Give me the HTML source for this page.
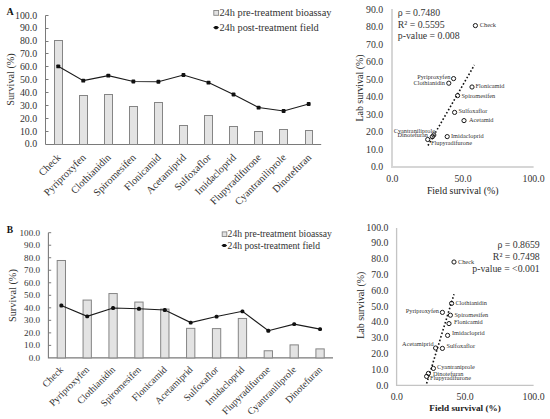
<!DOCTYPE html>
<html><head><meta charset="utf-8"><title>Figure</title>
<style>
html,body{margin:0;padding:0;background:#fff;}
body{width:550px;height:419px;overflow:hidden;}
svg{display:block;font-family:'Liberation Serif', serif;}
</style></head><body>
<svg width="550" height="419" viewBox="0 0 550 419">
<rect width="550" height="419" fill="#fff"/>
<path d="M45.50 15.50 V144.50 H321.20" fill="none" stroke="#7a7a7a" stroke-width="1"/>
<path d="M45.50 131.50 h3 M45.50 118.50 h3 M45.50 105.50 h3 M45.50 92.50 h3 M45.50 79.50 h3 M45.50 66.50 h3 M45.50 53.50 h3 M45.50 41.50 h3 M45.50 28.50 h3 M45.50 15.50 h3 " stroke="#7a7a7a" stroke-width="1"/>
<text x="37.20" y="147.47" font-size="9.9" text-anchor="end" fill="#333" >0.0</text>
<text x="37.20" y="134.58" font-size="9.9" text-anchor="end" fill="#333" >10.0</text>
<text x="37.20" y="121.69" font-size="9.9" text-anchor="end" fill="#333" >20.0</text>
<text x="37.20" y="108.80" font-size="9.9" text-anchor="end" fill="#333" >30.0</text>
<text x="37.20" y="95.91" font-size="9.9" text-anchor="end" fill="#333" >40.0</text>
<text x="37.20" y="83.02" font-size="9.9" text-anchor="end" fill="#333" >50.0</text>
<text x="37.20" y="70.13" font-size="9.9" text-anchor="end" fill="#333" >60.0</text>
<text x="37.20" y="57.24" font-size="9.9" text-anchor="end" fill="#333" >70.0</text>
<text x="37.20" y="44.35" font-size="9.9" text-anchor="end" fill="#333" >80.0</text>
<text x="37.20" y="31.46" font-size="9.9" text-anchor="end" fill="#333" >90.0</text>
<text x="37.20" y="18.57" font-size="9.9" text-anchor="end" fill="#333" >100.0</text>
<rect x="54.50" y="40.50" width="8" height="104.00" fill="#e3e3e3" stroke="#858585" stroke-width="1"/>
<rect x="79.50" y="95.50" width="8" height="49.00" fill="#e3e3e3" stroke="#858585" stroke-width="1"/>
<rect x="104.50" y="94.50" width="8" height="50.00" fill="#e3e3e3" stroke="#858585" stroke-width="1"/>
<rect x="129.50" y="106.50" width="8" height="38.00" fill="#e3e3e3" stroke="#858585" stroke-width="1"/>
<rect x="154.50" y="102.50" width="8" height="42.00" fill="#e3e3e3" stroke="#858585" stroke-width="1"/>
<rect x="179.50" y="125.50" width="8" height="19.00" fill="#e3e3e3" stroke="#858585" stroke-width="1"/>
<rect x="204.50" y="115.50" width="8" height="29.00" fill="#e3e3e3" stroke="#858585" stroke-width="1"/>
<rect x="229.50" y="126.50" width="8" height="18.00" fill="#e3e3e3" stroke="#858585" stroke-width="1"/>
<rect x="254.50" y="131.50" width="8" height="13.00" fill="#e3e3e3" stroke="#858585" stroke-width="1"/>
<rect x="279.50" y="129.50" width="8" height="15.00" fill="#e3e3e3" stroke="#858585" stroke-width="1"/>
<rect x="305.50" y="130.50" width="7" height="14.00" fill="#e3e3e3" stroke="#858585" stroke-width="1"/>
<polyline points="58.22,66.34 83.27,80.65 108.31,75.63 133.36,81.55 158.40,81.81 183.45,74.98 208.50,82.59 233.54,94.44 258.59,107.59 283.63,110.94 308.68,103.98" fill="none" stroke="#1a1a1a" stroke-width="1.1"/>
<rect x="56.27" y="64.39" width="3.9" height="3.9" rx="0.9" fill="#111"/>
<rect x="81.32" y="78.70" width="3.9" height="3.9" rx="0.9" fill="#111"/>
<rect x="106.36" y="73.68" width="3.9" height="3.9" rx="0.9" fill="#111"/>
<rect x="131.41" y="79.60" width="3.9" height="3.9" rx="0.9" fill="#111"/>
<rect x="156.45" y="79.86" width="3.9" height="3.9" rx="0.9" fill="#111"/>
<rect x="181.50" y="73.03" width="3.9" height="3.9" rx="0.9" fill="#111"/>
<rect x="206.55" y="80.64" width="3.9" height="3.9" rx="0.9" fill="#111"/>
<rect x="231.59" y="92.49" width="3.9" height="3.9" rx="0.9" fill="#111"/>
<rect x="256.64" y="105.64" width="3.9" height="3.9" rx="0.9" fill="#111"/>
<rect x="281.68" y="108.99" width="3.9" height="3.9" rx="0.9" fill="#111"/>
<rect x="306.73" y="102.03" width="3.9" height="3.9" rx="0.9" fill="#111"/>
<text x="61.32" y="158.00" font-size="10.3" text-anchor="end" fill="#333" transform="rotate(-45 61.32 158.00)">Check</text>
<text x="86.37" y="158.00" font-size="10.3" text-anchor="end" fill="#333" transform="rotate(-45 86.37 158.00)">Pyriproxyfen</text>
<text x="111.41" y="158.00" font-size="10.3" text-anchor="end" fill="#333" transform="rotate(-45 111.41 158.00)">Clothianidin</text>
<text x="136.46" y="158.00" font-size="10.3" text-anchor="end" fill="#333" transform="rotate(-45 136.46 158.00)">Spiromesifen</text>
<text x="161.50" y="158.00" font-size="10.3" text-anchor="end" fill="#333" transform="rotate(-45 161.50 158.00)">Flonicamid</text>
<text x="186.55" y="158.00" font-size="10.3" text-anchor="end" fill="#333" transform="rotate(-45 186.55 158.00)">Acetamiprid</text>
<text x="211.60" y="158.00" font-size="10.3" text-anchor="end" fill="#333" transform="rotate(-45 211.60 158.00)">Sulfoxaflor</text>
<text x="236.64" y="158.00" font-size="10.3" text-anchor="end" fill="#333" transform="rotate(-45 236.64 158.00)">Imidacloprid</text>
<text x="261.69" y="158.00" font-size="10.3" text-anchor="end" fill="#333" transform="rotate(-45 261.69 158.00)">Flupyradifurone</text>
<text x="286.73" y="158.00" font-size="10.3" text-anchor="end" fill="#333" transform="rotate(-45 286.73 158.00)">Cyantraniliprole</text>
<text x="311.78" y="158.00" font-size="10.3" text-anchor="end" fill="#333" transform="rotate(-45 311.78 158.00)">Dinotefuran</text>
<text x="14.40" y="79.50" font-size="10.2" text-anchor="middle" fill="#333" transform="rotate(-90 14.4 79.5)">Survival (%)</text>
<text x="6.50" y="15.00" font-size="10" text-anchor="start" fill="#111" font-weight="bold" >A</text>
<rect x="213.80" y="10.50" width="4.8" height="4.8" fill="#e2e2e2" stroke="#858585" stroke-width="0.9"/>
<text x="219.40" y="15.60" font-size="10.35" text-anchor="start" fill="#333" >24h pre-treatment bioassay</text>
<path d="M213.20 27.58 L215.10 25.98 L217.10 25.98 L219.00 27.58 L217.10 29.18 L215.10 29.18 Z" fill="#111"/>
<text x="219.40" y="31.00" font-size="10.35" text-anchor="start" fill="#333" >24h post-treatment field</text>
<path d="M48.40 232.70 V357.90 H333.00" fill="none" stroke="#7a7a7a" stroke-width="1.1"/>
<path d="M48.40 345.38 h2.8 M48.40 332.86 h2.8 M48.40 320.34 h2.8 M48.40 307.82 h2.8 M48.40 295.30 h2.8 M48.40 282.78 h2.8 M48.40 270.26 h2.8 M48.40 257.74 h2.8 M48.40 245.22 h2.8 M48.40 232.70 h2.8 " stroke="#7a7a7a" stroke-width="1"/>
<text x="40.00" y="360.90" font-size="9.1" text-anchor="end" fill="#333" >0.0</text>
<text x="40.00" y="348.38" font-size="9.1" text-anchor="end" fill="#333" >10.0</text>
<text x="40.00" y="335.86" font-size="9.1" text-anchor="end" fill="#333" >20.0</text>
<text x="40.00" y="323.34" font-size="9.1" text-anchor="end" fill="#333" >30.0</text>
<text x="40.00" y="310.82" font-size="9.1" text-anchor="end" fill="#333" >40.0</text>
<text x="40.00" y="298.30" font-size="9.1" text-anchor="end" fill="#333" >50.0</text>
<text x="40.00" y="285.78" font-size="9.1" text-anchor="end" fill="#333" >60.0</text>
<text x="40.00" y="273.26" font-size="9.1" text-anchor="end" fill="#333" >70.0</text>
<text x="40.00" y="260.74" font-size="9.1" text-anchor="end" fill="#333" >80.0</text>
<text x="40.00" y="248.22" font-size="9.1" text-anchor="end" fill="#333" >90.0</text>
<text x="40.00" y="235.70" font-size="9.1" text-anchor="end" fill="#333" >100.0</text>
<rect x="57.19" y="260.49" width="8.3" height="97.41" fill="#e3e3e3" stroke="#858585" stroke-width="1"/>
<rect x="83.06" y="300.06" width="8.3" height="57.84" fill="#e3e3e3" stroke="#858585" stroke-width="1"/>
<rect x="108.93" y="293.55" width="8.3" height="64.35" fill="#e3e3e3" stroke="#858585" stroke-width="1"/>
<rect x="134.80" y="302.06" width="8.3" height="55.84" fill="#e3e3e3" stroke="#858585" stroke-width="1"/>
<rect x="160.68" y="309.07" width="8.3" height="48.83" fill="#e3e3e3" stroke="#858585" stroke-width="1"/>
<rect x="186.55" y="328.35" width="8.3" height="29.55" fill="#e3e3e3" stroke="#858585" stroke-width="1"/>
<rect x="212.42" y="328.60" width="8.3" height="29.30" fill="#e3e3e3" stroke="#858585" stroke-width="1"/>
<rect x="238.30" y="318.46" width="8.3" height="39.44" fill="#e3e3e3" stroke="#858585" stroke-width="1"/>
<rect x="264.17" y="350.76" width="8.3" height="7.14" fill="#e3e3e3" stroke="#858585" stroke-width="1"/>
<rect x="290.04" y="344.88" width="8.3" height="13.02" fill="#e3e3e3" stroke="#858585" stroke-width="1"/>
<rect x="315.91" y="348.89" width="8.3" height="9.01" fill="#e3e3e3" stroke="#858585" stroke-width="1"/>
<polyline points="61.34,305.57 87.21,316.33 113.08,308.07 138.95,308.70 164.83,310.07 190.70,322.59 216.57,316.58 242.45,311.33 268.32,330.73 294.19,324.10 320.06,329.10" fill="none" stroke="#1a1a1a" stroke-width="1.1"/>
<rect x="59.39" y="303.62" width="3.9" height="3.9" rx="1.5" fill="#111"/>
<rect x="85.26" y="314.38" width="3.9" height="3.9" rx="1.5" fill="#111"/>
<rect x="111.13" y="306.12" width="3.9" height="3.9" rx="1.5" fill="#111"/>
<rect x="137.00" y="306.75" width="3.9" height="3.9" rx="1.5" fill="#111"/>
<rect x="162.88" y="308.12" width="3.9" height="3.9" rx="1.5" fill="#111"/>
<rect x="188.75" y="320.64" width="3.9" height="3.9" rx="1.5" fill="#111"/>
<rect x="214.62" y="314.63" width="3.9" height="3.9" rx="1.5" fill="#111"/>
<rect x="240.50" y="309.38" width="3.9" height="3.9" rx="1.5" fill="#111"/>
<rect x="266.37" y="328.78" width="3.9" height="3.9" rx="1.5" fill="#111"/>
<rect x="292.24" y="322.15" width="3.9" height="3.9" rx="1.5" fill="#111"/>
<rect x="318.11" y="327.15" width="3.9" height="3.9" rx="1.5" fill="#111"/>
<text x="63.94" y="370.20" font-size="9.8" text-anchor="end" fill="#333" transform="rotate(-45 63.94 370.20)">Check</text>
<text x="89.81" y="370.20" font-size="9.8" text-anchor="end" fill="#333" transform="rotate(-45 89.81 370.20)">Pyriproxyfen</text>
<text x="115.68" y="370.20" font-size="9.8" text-anchor="end" fill="#333" transform="rotate(-45 115.68 370.20)">Clothianidin</text>
<text x="141.55" y="370.20" font-size="9.8" text-anchor="end" fill="#333" transform="rotate(-45 141.55 370.20)">Spiromesifen</text>
<text x="167.43" y="370.20" font-size="9.8" text-anchor="end" fill="#333" transform="rotate(-45 167.43 370.20)">Flonicamid</text>
<text x="193.30" y="370.20" font-size="9.8" text-anchor="end" fill="#333" transform="rotate(-45 193.30 370.20)">Acetamiprid</text>
<text x="219.17" y="370.20" font-size="9.8" text-anchor="end" fill="#333" transform="rotate(-45 219.17 370.20)">Sulfoxaflor</text>
<text x="245.05" y="370.20" font-size="9.8" text-anchor="end" fill="#333" transform="rotate(-45 245.05 370.20)">Imidacloprid</text>
<text x="270.92" y="370.20" font-size="9.8" text-anchor="end" fill="#333" transform="rotate(-45 270.92 370.20)">Flupyradifurone</text>
<text x="296.79" y="370.20" font-size="9.8" text-anchor="end" fill="#333" transform="rotate(-45 296.79 370.20)">Cyantraniliprole</text>
<text x="322.66" y="370.20" font-size="9.8" text-anchor="end" fill="#333" transform="rotate(-45 322.66 370.20)">Dinotefuran</text>
<text x="15.70" y="295.60" font-size="10.3" text-anchor="middle" fill="#333" transform="rotate(-90 15.7 295.6)">Survival (%)</text>
<text x="6.80" y="232.50" font-size="9.5" text-anchor="start" fill="#111" font-weight="bold" >B</text>
<rect x="222.20" y="231.90" width="4.6" height="4.6" fill="#e2e2e2" stroke="#858585" stroke-width="0.9"/>
<text x="227.60" y="236.80" font-size="9.65" text-anchor="start" fill="#333" >24h pre-treatment bioassay</text>
<path d="M221.40 245.52 L223.30 243.92 L225.30 243.92 L227.20 245.52 L225.30 247.12 L223.30 247.12 Z" fill="#111"/>
<text x="227.60" y="248.70" font-size="9.65" text-anchor="start" fill="#333" >24h post-treatment field</text>
<path d="M392.00 9.00 V167.00 H533.60" fill="none" stroke="#d6d6d6" stroke-width="2"/>
<text x="383.20" y="170.23" font-size="9.8" text-anchor="end" fill="#333" >0.0</text>
<text x="383.20" y="152.73" font-size="9.8" text-anchor="end" fill="#333" >10.0</text>
<text x="383.20" y="135.23" font-size="9.8" text-anchor="end" fill="#333" >20.0</text>
<text x="383.20" y="117.73" font-size="9.8" text-anchor="end" fill="#333" >30.0</text>
<text x="383.20" y="100.23" font-size="9.8" text-anchor="end" fill="#333" >40.0</text>
<text x="383.20" y="82.73" font-size="9.8" text-anchor="end" fill="#333" >50.0</text>
<text x="383.20" y="65.23" font-size="9.8" text-anchor="end" fill="#333" >60.0</text>
<text x="383.20" y="47.73" font-size="9.8" text-anchor="end" fill="#333" >70.0</text>
<text x="383.20" y="30.23" font-size="9.8" text-anchor="end" fill="#333" >80.0</text>
<text x="383.20" y="12.73" font-size="9.8" text-anchor="end" fill="#333" >90.0</text>
<text x="392.40" y="181.60" font-size="9.8" text-anchor="middle" fill="#333" >0.0</text>
<text x="463.00" y="181.60" font-size="9.8" text-anchor="middle" fill="#333" >50.0</text>
<text x="533.60" y="181.60" font-size="9.8" text-anchor="middle" fill="#333" >100.0</text>
<text x="462.70" y="194.40" font-size="9.85" text-anchor="middle" fill="#222" >Field survival (%)</text>
<text x="363.20" y="88.00" font-size="9.9" text-anchor="middle" fill="#222" transform="rotate(-90 363.2 88)">Lab survival (%)</text>
<line x1="428" y1="145.5" x2="474.4" y2="65" stroke="#111" stroke-width="1.6" stroke-dasharray="1.6 2.1"/>
<circle cx="475.4" cy="25.6" r="2.1" fill="none" stroke="#1a1a1a" stroke-width="1.0"/>
<text transform="translate(479.80 26.95) scale(0.893 1)" font-size="7.06" text-anchor="start" fill="#333">Check</text>
<circle cx="453.6" cy="78.6" r="2.1" fill="none" stroke="#1a1a1a" stroke-width="1.0"/>
<text transform="translate(450.40 78.55) scale(0.893 1)" font-size="7.06" text-anchor="end" fill="#333">Pyriproxyfen</text>
<circle cx="448.8" cy="83.2" r="2.1" fill="none" stroke="#1a1a1a" stroke-width="1.0"/>
<text transform="translate(445.00 84.95) scale(0.893 1)" font-size="7.06" text-anchor="end" fill="#333">Clothianidin</text>
<circle cx="472" cy="87" r="2.1" fill="none" stroke="#1a1a1a" stroke-width="1.0"/>
<text transform="translate(475.60 88.15) scale(0.893 1)" font-size="7.06" text-anchor="start" fill="#333">Flonicamid</text>
<circle cx="457.6" cy="95.6" r="2.1" fill="none" stroke="#1a1a1a" stroke-width="1.0"/>
<text transform="translate(461.60 97.75) scale(0.893 1)" font-size="7.06" text-anchor="start" fill="#333">Spiromesifen</text>
<circle cx="454.6" cy="112.4" r="2.1" fill="none" stroke="#1a1a1a" stroke-width="1.0"/>
<text transform="translate(458.60 113.35) scale(0.893 1)" font-size="7.06" text-anchor="start" fill="#333">Sulfoxaflor</text>
<circle cx="464" cy="120.6" r="2.1" fill="none" stroke="#1a1a1a" stroke-width="1.0"/>
<text transform="translate(469.00 121.95) scale(0.893 1)" font-size="7.06" text-anchor="start" fill="#333">Acetamid</text>
<circle cx="447.2" cy="136.6" r="2.1" fill="none" stroke="#1a1a1a" stroke-width="1.0"/>
<text transform="translate(451.00 138.35) scale(0.893 1)" font-size="7.06" text-anchor="start" fill="#333">Imidacloprid</text>
<circle cx="433.8" cy="135" r="2.1" fill="none" stroke="#1a1a1a" stroke-width="1.0"/>
<text transform="translate(435.00 132.55) scale(0.893 1)" font-size="7.06" text-anchor="end" fill="#333">Cyantraniliprole</text>
<circle cx="432.3" cy="136.8" r="2.1" fill="none" stroke="#1a1a1a" stroke-width="1.0"/>
<text transform="translate(428.00 137.05) scale(0.893 1)" font-size="7.06" text-anchor="end" fill="#333">Dinotefuran</text>
<circle cx="427.7" cy="139.5" r="2.1" fill="none" stroke="#1a1a1a" stroke-width="1.0"/>
<text transform="translate(431.00 145.25) scale(0.893 1)" font-size="7.06" text-anchor="start" fill="#333">Flupyradifurone</text>
<text x="397.80" y="15.80" font-size="9.8" text-anchor="start" fill="#333" >ρ = 0.7480</text>
<text x="397.80" y="27.60" font-size="9.8" text-anchor="start" fill="#333" >R² = 0.5595</text>
<text x="397.80" y="39.20" font-size="9.8" text-anchor="start" fill="#333" >p-value = 0.008</text>
<path d="M396.60 228.00 V385.30 H533.60" fill="none" stroke="#c4c4c4" stroke-width="1.3"/>
<text x="388.40" y="388.63" font-size="9.8" text-anchor="end" fill="#333" >0.0</text>
<text x="388.40" y="372.83" font-size="9.8" text-anchor="end" fill="#333" >10.0</text>
<text x="388.40" y="357.03" font-size="9.8" text-anchor="end" fill="#333" >20.0</text>
<text x="388.40" y="341.23" font-size="9.8" text-anchor="end" fill="#333" >30.0</text>
<text x="388.40" y="325.43" font-size="9.8" text-anchor="end" fill="#333" >40.0</text>
<text x="388.40" y="309.63" font-size="9.8" text-anchor="end" fill="#333" >50.0</text>
<text x="388.40" y="293.83" font-size="9.8" text-anchor="end" fill="#333" >60.0</text>
<text x="388.40" y="278.03" font-size="9.8" text-anchor="end" fill="#333" >70.0</text>
<text x="388.40" y="262.23" font-size="9.8" text-anchor="end" fill="#333" >80.0</text>
<text x="388.40" y="246.43" font-size="9.8" text-anchor="end" fill="#333" >90.0</text>
<text x="388.40" y="230.63" font-size="9.8" text-anchor="end" fill="#333" >100.0</text>
<text x="396.80" y="400.40" font-size="9.8" text-anchor="middle" fill="#333" >0.0</text>
<text x="465.20" y="400.40" font-size="9.8" text-anchor="middle" fill="#333" >50.0</text>
<text x="533.60" y="400.40" font-size="9.8" text-anchor="middle" fill="#333" >100.0</text>
<text x="465.00" y="411.30" font-size="9.2" text-anchor="middle" fill="#222" font-weight="bold" >Field survival (%)</text>
<text x="363.80" y="305.20" font-size="9.9" text-anchor="middle" fill="#222" transform="rotate(-90 363.8 305.2)">Lab survival (%)</text>
<line x1="426.6" y1="383.6" x2="454" y2="294.2" stroke="#111" stroke-width="1.6" stroke-dasharray="1.6 2.1"/>
<circle cx="454" cy="262" r="2.1" fill="none" stroke="#1a1a1a" stroke-width="1.0"/>
<text transform="translate(458.00 263.55) scale(0.893 1)" font-size="7.06" text-anchor="start" fill="#333">Check</text>
<circle cx="451.6" cy="303.4" r="2.1" fill="none" stroke="#1a1a1a" stroke-width="1.0"/>
<text transform="translate(455.40 304.55) scale(0.893 1)" font-size="7.06" text-anchor="start" fill="#333">Clothianidin</text>
<circle cx="442.4" cy="312.4" r="2.1" fill="none" stroke="#1a1a1a" stroke-width="1.0"/>
<text transform="translate(439.00 313.15) scale(0.893 1)" font-size="7.06" text-anchor="end" fill="#333">Pyriproxyfen</text>
<circle cx="450.4" cy="315.2" r="2.1" fill="none" stroke="#1a1a1a" stroke-width="1.0"/>
<text transform="translate(454.60 316.55) scale(0.893 1)" font-size="7.06" text-anchor="start" fill="#333">Spiromesifen</text>
<circle cx="449" cy="323.6" r="2.1" fill="none" stroke="#1a1a1a" stroke-width="1.0"/>
<text transform="translate(454.00 323.55) scale(0.893 1)" font-size="7.06" text-anchor="start" fill="#333">Flonicamid</text>
<circle cx="447.6" cy="335.4" r="2.1" fill="none" stroke="#1a1a1a" stroke-width="1.0"/>
<text transform="translate(452.00 334.95) scale(0.893 1)" font-size="7.06" text-anchor="start" fill="#333">Imidacloprid</text>
<circle cx="435.6" cy="348" r="2.1" fill="none" stroke="#1a1a1a" stroke-width="1.0"/>
<text transform="translate(433.60 345.55) scale(0.893 1)" font-size="7.06" text-anchor="end" fill="#333">Acetamiprid</text>
<circle cx="442.4" cy="348.4" r="2.1" fill="none" stroke="#1a1a1a" stroke-width="1.0"/>
<text transform="translate(446.40 348.15) scale(0.893 1)" font-size="7.06" text-anchor="start" fill="#333">Sulfoxaflor</text>
<circle cx="433.4" cy="368.4" r="2.1" fill="none" stroke="#1a1a1a" stroke-width="1.0"/>
<text transform="translate(437.00 369.15) scale(0.893 1)" font-size="7.06" text-anchor="start" fill="#333">Cyantraniprole</text>
<circle cx="428.4" cy="373.4" r="2.1" fill="none" stroke="#1a1a1a" stroke-width="1.0"/>
<text transform="translate(433.00 375.55) scale(0.893 1)" font-size="7.06" text-anchor="start" fill="#333">Dinotefuran</text>
<circle cx="426.6" cy="376.4" r="2.1" fill="none" stroke="#1a1a1a" stroke-width="1.0"/>
<text transform="translate(430.00 380.15) scale(0.893 1)" font-size="7.06" text-anchor="start" fill="#333">Flupyradifurone</text>
<text x="539.70" y="247.80" font-size="9.8" text-anchor="end" fill="#333" >ρ = 0.8659</text>
<text x="539.70" y="259.80" font-size="9.8" text-anchor="end" fill="#333" >R² = 0.7498</text>
<text x="539.70" y="271.80" font-size="9.8" text-anchor="end" fill="#333" >p-value = &lt;0.001</text>
</svg>
</body></html>
